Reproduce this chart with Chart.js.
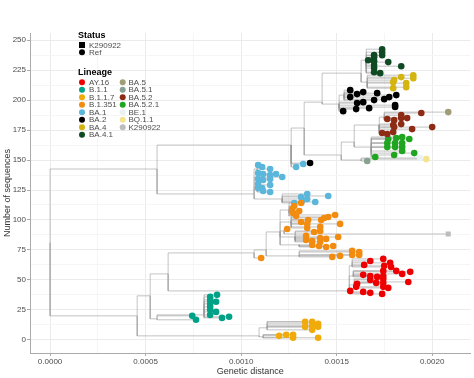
<!DOCTYPE html>
<html><head><meta charset="utf-8">
<script src="https://cdn.jsdelivr.net/npm/chart.js@4.4.1/dist/chart.umd.min.js"></script>
<style>html,body{margin:0;padding:0;background:#fff;}#wrap{width:474px;height:378px;}</style>
</head><body><div id="wrap"><canvas id="c" width="474" height="378"></canvas></div>
<script>
// ---- tick labels ----
const xMajorTicks = [0, 0.0005, 0.001, 0.0015, 0.002];
const xMinorTicks = [0.00025, 0.00075, 0.00125, 0.00175];
const yMajorTicks = [0, 25, 50, 75, 100, 125, 150, 175, 200, 225, 250];
const yMinorTicks = [12.5, 37.5, 62.5, 87.5, 112.5, 137.5, 162.5, 187.5, 212.5, 237.5];
const xTitle = 'Genetic distance';
const yTitle = 'Number of sequences';

// ---- legend ----
const statusLabels = ['K290922', 'Ref'];
const lineageNames = ['AY.16','B.1.1','B.1.1.7','B.1.351','BA.1','BA.2','BA.4','BA.4.1',
  'BA.5','BA.5.1','BA.5.2','BA.5.2.1','BE.1','BQ.1.1','K290922'];
const lineageColors = ['#EE0000','#00A287','#F0AA0A','#F28C10','#5AB6DA','#000000','#D4B410','#0F4A24',
  '#A19D76','#88A291','#8E2B15','#1FA51F','#EAF1F3','#F2E38C','#BDBDBD'];

// ---- internal nodes of the tree ----
const nodeNames  = ['root','A','B','A1','A2','T0','T1','T2','T2a','T2b','T3','T3a','T5','T6','T7','T8','T8a','T9',
  'A2u','A2m','A2l','A2b','B1','B1a','TB0','TB1','O0','O1','O2','O3','O4','O5','O6','O7','O8','R0','R1','R2','R3','Am0','Am1','Am2'];
const nodeX = [0,0.000560,0.000456,0.001262,0.001068,0.001330,0.001424,0.001628,0.001655,0.001660,0.001513,0.001539,0.001524,0.001592,0.001628,0.001723,0.001749,0.001681,
  0.001084,0.001084,0.001084,0.001215,0.000524,0.000618,0.000560,0.000806,0.001068,0.001131,0.001204,0.001304,0.001251,0.001262,0.001283,0.001304,0.001225,0.001566,0.001581,0.001587,0.001592,0.001094,0.001136,0.001115];
const nodeY = [81,142.5,20,162.5,121.7,176.7,198.3,222.5,233.3,215,196.7,204.2,154.2,165,150,179.2,185.8,160.8,
  142.5,135.8,127.5,117.5,36.7,55,17.5,20.8,72.5,75,90,70,108.3,98.3,85.8,79.2,90.8,40.8,61.7,53.3,45.8,3.3,10,2.5];
const nodeParent = [null,'root','root','A','A','A1','T0','T1','T2','T2','T1','T3','T0','T5','T5','T6','T8','T6',
  'A2','A2','A2','A2','B','B1','B1','TB0','B1a','O0','O1','O1','O2','O2','O2','O2','O2','B1a','R0','R0','R0','B','Am0','Am0'];

// ---- tips: [genetic distance, sequence position, parent node] ----
const tipsAY16 = [[0.001644,62.5,'R1'],[0.001676,65.8,'R1'],[0.001744,67.5,'R1'],[0.001780,64.2,'R1'],[0.001749,61.7,'R1'],[0.001785,60.8,'R1'],
  [0.001639,54.2,'R2'],[0.001676,53.3,'R2'],[0.001744,57.5,'R2'],[0.001744,53.3,'R2'],[0.001712,52.5,'R2'],[0.001812,57.5,'R2'],[0.001843,55,'R2'],[0.001885,56.7,'R2'],
  [0.001676,50,'R3'],[0.001707,47.5,'R3'],[0.001744,47.5,'R3'],[0.001744,44.2,'R3'],[0.001770,43.3,'R3'],[0.001875,48.3,'R3'],[0.001607,46.7,'R3'],[0.001602,44.2,'R3'],[0.001744,50.8,'R3'],
  [0.001571,40.8,'R0'],[0.001639,40,'R0'],[0.001676,39.2,'R0'],[0.001738,38.3,'R0']];
const tipsB11 = [[0.000744,20,'TB0'],[0.000764,16.7,'TB0'],
  [0.000838,35.8,'TB1'],[0.000874,37.5,'TB1'],[0.000838,33.3,'TB1'],[0.000869,31.7,'TB1'],[0.000838,30,'TB1'],[0.000838,27.5,'TB1'],
  [0.000838,25,'TB1'],[0.000869,23.3,'TB1'],[0.000838,20.8,'TB1'],[0.000900,18.3,'TB1'],[0.000937,19.2,'TB1']];
const tipsB117 = [[0.001335,15,'Am1'],[0.001372,15,'Am1'],[0.001372,11.7,'Am1'],[0.001403,10.8,'Am1'],[0.001335,10.8,'Am1'],[0.001372,8.3,'Am1'],[0.001403,13.3,'Am1'],
  [0.001199,3.3,'Am2'],[0.001236,4.2,'Am2'],[0.001272,4.2,'Am2'],[0.001272,1.7,'Am2'],[0.001403,1.7,'Am2']];
const tipsB1351 = [[0.001105,68.3,'O0'],
  [0.001477,69.2,'O3'],[0.001518,70,'O3'],[0.001581,74.2,'O3'],[0.001581,70.8,'O3'],[0.001618,73.3,'O3'],[0.001618,70.8,'O3'],
  [0.001314,114.2,'O4'],[0.001278,111.7,'O4'],[0.001267,109.2,'O4'],[0.001304,107.5,'O4'],[0.001272,105.8,'O4'],[0.001288,103.3,'O4'],
  [0.001314,98.3,'O5'],[0.001351,100,'O5'],[0.001346,96.7,'O5'],[0.001346,93.3,'O5'],[0.001419,100,'O5'],[0.001435,101.7,'O5'],[0.001456,102.5,'O5'],[0.001492,104.2,'O5'],[0.001518,96.7,'O5'],[0.001414,94.2,'O5'],
  [0.001340,86.7,'O6'],[0.001340,83.3,'O6'],[0.001372,82.5,'O6'],[0.001414,85,'O6'],[0.001414,81.7,'O6'],[0.001445,84.2,'O6'],[0.001508,85.8,'O6'],[0.001382,90,'O6'],[0.001414,90.8,'O6'],
  [0.001372,79.2,'O7'],[0.001445,77.5,'O7'],[0.001482,78.3,'O7'],[0.001408,78.3,'O7'],
  [0.001241,92.5,'O8']];
const tipsBA1 = [[0.001089,145.8,'A2u'],[0.001110,144.2,'A2u'],[0.001152,142.5,'A2u'],[0.001089,139.2,'A2u'],
  [0.001115,138.3,'A2m'],[0.001152,137.5,'A2m'],[0.001183,138.3,'A2m'],[0.001215,135.8,'A2m'],[0.001089,134.2,'A2m'],[0.001115,133.3,'A2m'],[0.001152,134.2,'A2m'],
  [0.001089,130,'A2l'],[0.001110,126.7,'A2l'],[0.001152,129.2,'A2l'],[0.001089,126.7,'A2l'],[0.001152,123.3,'A2l'],[0.001115,124.2,'A2l'],
  [0.001278,114.2,'A2b'],[0.001314,119.2,'A2b'],[0.001346,121.7,'A2b'],[0.001346,117.5,'A2b'],[0.001388,115,'A2b'],[0.001456,120,'A2b'],[0.001319,115.8,'A2b'],
  [0.001288,144.2,'A1'],[0.001325,146.7,'A1']];
const tipsBA2 = [[0.001361,147.5,'A1'],
  [0.001571,208.3,'T3a'],[0.001607,205,'T3a'],[0.001639,206.7,'T3a'],[0.001712,205.8,'T3a'],[0.001571,202.5,'T3a'],[0.001749,200.8,'T3a'],[0.001775,202.5,'T3a'],[0.001812,204.2,'T3a'],[0.001696,200,'T3a'],
  [0.001534,190.8,'T3'],[0.001602,192.5,'T3'],[0.001670,193.3,'T3'],[0.001806,195.8,'T3'],[0.001806,194.2,'T3'],[0.001607,197.5,'T3'],[0.001639,198.3,'T3']];
const tipsBA4 = [[0.001801,216.7,'T2b'],[0.001838,219.2,'T2b'],[0.001901,220.8,'T2b'],[0.001901,218.3,'T2b'],[0.001864,214.2,'T2b'],[0.001864,210.8,'T2b'],[0.001796,210,'T2b'],[0.001796,215,'T2b']];
const tipsBA41 = [[0.001696,237.5,'T2a'],[0.001738,240,'T2a'],[0.001738,242.5,'T2a'],[0.001696,235.8,'T2a'],[0.001738,237.5,'T2a'],[0.001665,233.3,'T2a'],[0.001696,232.5,'T2a'],
  [0.001770,231.7,'T2a'],[0.001838,228.3,'T2a'],[0.001696,229.2,'T2a'],[0.001696,226.7,'T2a'],[0.001696,223.3,'T2a'],[0.001728,222.5,'T2a']];
const tipsBA5 = [[0.002084,190,'T8a']];
const tipsBA51 = [[0.001660,149.2,'T7']];
const tipsBA52 = [[0.001838,187.5,'T8a'],[0.001943,189.2,'T8a'],[0.001765,184.2,'T8a'],[0.001801,183.3,'T8a'],[0.001838,185,'T8a'],[0.001869,185,'T8a'],
  [0.001796,179.2,'T8'],[0.001838,180,'T8'],[0.001801,177.5,'T8'],[0.001895,175.8,'T8'],[0.002000,177.5,'T8'],[0.001796,173.3,'T8'],[0.001738,172.5,'T8'],[0.001765,171.7,'T8']];
const tipsBA521 = [[0.001770,167.5,'T9'],[0.001812,168.3,'T9'],[0.001843,169.2,'T9'],[0.001880,167.5,'T9'],[0.001765,164.2,'T9'],[0.001806,164.2,'T9'],[0.001843,164.2,'T9'],
  [0.001765,160.8,'T9'],[0.001806,160.8,'T9'],[0.001843,160.8,'T9'],[0.001843,157.5,'T9'],[0.001906,155.8,'T9'],[0.001801,154.2,'T9'],[0.001702,152.5,'T9']];
const tipsBE1 = [[0.001937,151.7,'T7']];
const tipsBQ11 = [[0.001969,150.8,'T7']];
const tipsK290922 = [[0.002084,88.3,'O8']];

const tipsByLineage = [tipsAY16,tipsB11,tipsB117,tipsB1351,tipsBA1,tipsBA2,tipsBA4,tipsBA41,
  tipsBA5,tipsBA51,tipsBA52,tipsBA521,tipsBE1,tipsBQ11,tipsK290922];

// ---- build tree edges (rectangular phylogram) ----
const idx = {}; nodeNames.forEach((n,i)=>idx[n]=i);
const edges = [];
function addEdge(parentName, cx, cy){
  const p = idx[parentName];
  const px = nodeX[p], py = nodeY[p];
  edges.push({x:px,y:py},{x:px,y:cy},{x:cx,y:cy},{x:cx,y:null});
}
nodeNames.forEach((n,i)=>{ if(nodeParent[i]) addEdge(nodeParent[i], nodeX[i], nodeY[i]); });
tipsByLineage.forEach(arr=>arr.forEach(t=>addEdge(t[2], t[0], t[1])));

const FONT = '"Liberation Sans", Arial, Helvetica, sans-serif';
const datasets = [{
  label:'tree', data:edges, showLine:true, spanGaps:false, pointRadius:0, pointHoverRadius:0,
  borderColor:'#9a9a9a', borderWidth:0.6, tension:0, order:1
}];
tipsByLineage.forEach((arr,i)=>{
  const isK = lineageNames[i]==='K290922';
  datasets.push({
    label: lineageNames[i], data: arr.map(t=>({x:t[0],y:t[1]})), showLine:false,
    pointStyle: isK ? 'rect' : 'circle', pointRadius: isK ? 3.6 : 3.3, pointHoverRadius: 3.3,
    pointBackgroundColor: lineageColors[i], pointBorderWidth:0, borderWidth:0, order:0
  });
});

const near = (list,v)=>list.some(m=>Math.abs(m-v)<1e-9);

const legendPlugin = {
  id:'legendBox',
  afterDraw(chart){
    const ctx = chart.ctx;
    ctx.save();
    ctx.textBaseline='middle'; ctx.textAlign='left';
    ctx.fillStyle='#000';
    ctx.font='bold 9px '+FONT;
    ctx.fillText('Status',78,35.5);
    ctx.fillText('Lineage',78,72.5);
    ctx.font='8px '+FONT;
    ctx.fillStyle='#000';
    ctx.fillRect(79,42,6,6);
    ctx.beginPath(); ctx.arc(82,52.3,3,0,Math.PI*2); ctx.fill();
    ctx.fillStyle='#4D4D4D';
    ctx.fillText(statusLabels[0],89,45.3);
    ctx.fillText(statusLabels[1],89,52.6);
    const rowY=[82.3,89.7,97.2,104.7,112.2,119.7,127.2,134.7];
    lineageNames.forEach((name,i)=>{
      const col = i<8?0:1, row = i<8?i:i-8;
      const cx = col===0?82:122.7, tx = col===0?89:128.5;
      const cy = rowY[row];
      ctx.fillStyle=lineageColors[i];
      ctx.beginPath(); ctx.arc(cx,cy,3,0,Math.PI*2); ctx.fill();
      ctx.fillStyle='#4D4D4D';
      ctx.fillText(name,tx,cy+0.3);
    });
    ctx.restore();
  }
};

new Chart(document.getElementById('c'),{
  type:'scatter',
  data:{datasets},
  plugins:[legendPlugin],
  options:{
    responsive:false, animation:false, devicePixelRatio:1,
    layout:{padding:{top:33,right:3,left:0,bottom:0}},
    plugins:{legend:{display:false},tooltip:{enabled:false}},
    scales:{
      x:{type:'linear',min:-0.000105,max:0.0022,
        afterBuildTicks:s=>{s.ticks=[...xMajorTicks,...xMinorTicks].sort((a,b)=>a-b).map(v=>({value:v}));},
        afterFit:s=>{s.height=25;},
        ticks:{autoSkip:false,maxRotation:0,padding:1,color:'#4D4D4D',font:{family:FONT,size:8},
          callback:v=>near(xMajorTicks,v)?v.toFixed(4):''},
        grid:{color:c=>c.tick&&near(xMajorTicks,c.tick.value)?'#EBEBEB':'#F5F5F5',
          tickColor:c=>c.tick&&near(xMajorTicks,c.tick.value)?'#ABABAB':'rgba(0,0,0,0)',tickLength:3,lineWidth:1},
        border:{display:true,color:'#ABABAB',width:1},
        title:{display:true,text:xTitle,color:'#333',font:{family:FONT,size:9},padding:{top:0,bottom:1}}
      },
      y:{type:'linear',min:-11,max:256,
        afterBuildTicks:s=>{s.ticks=[...yMajorTicks,...yMinorTicks].sort((a,b)=>a-b).map(v=>({value:v}));},
        afterFit:s=>{s.width=30;},
        ticks:{autoSkip:false,padding:1,color:'#4D4D4D',font:{family:FONT,size:8},
          callback:v=>near(yMajorTicks,v)?String(v):''},
        grid:{color:c=>c.tick&&near(yMajorTicks,c.tick.value)?'#EBEBEB':'#F5F5F5',
          tickColor:c=>c.tick&&near(yMajorTicks,c.tick.value)?'#ABABAB':'rgba(0,0,0,0)',tickLength:3,lineWidth:1},
        border:{display:true,color:'#ABABAB',width:1},
        title:{display:true,text:yTitle,color:'#333',font:{family:FONT,size:9},padding:{top:2,bottom:0}}
      }
    }
  }
});
</script></body></html>
